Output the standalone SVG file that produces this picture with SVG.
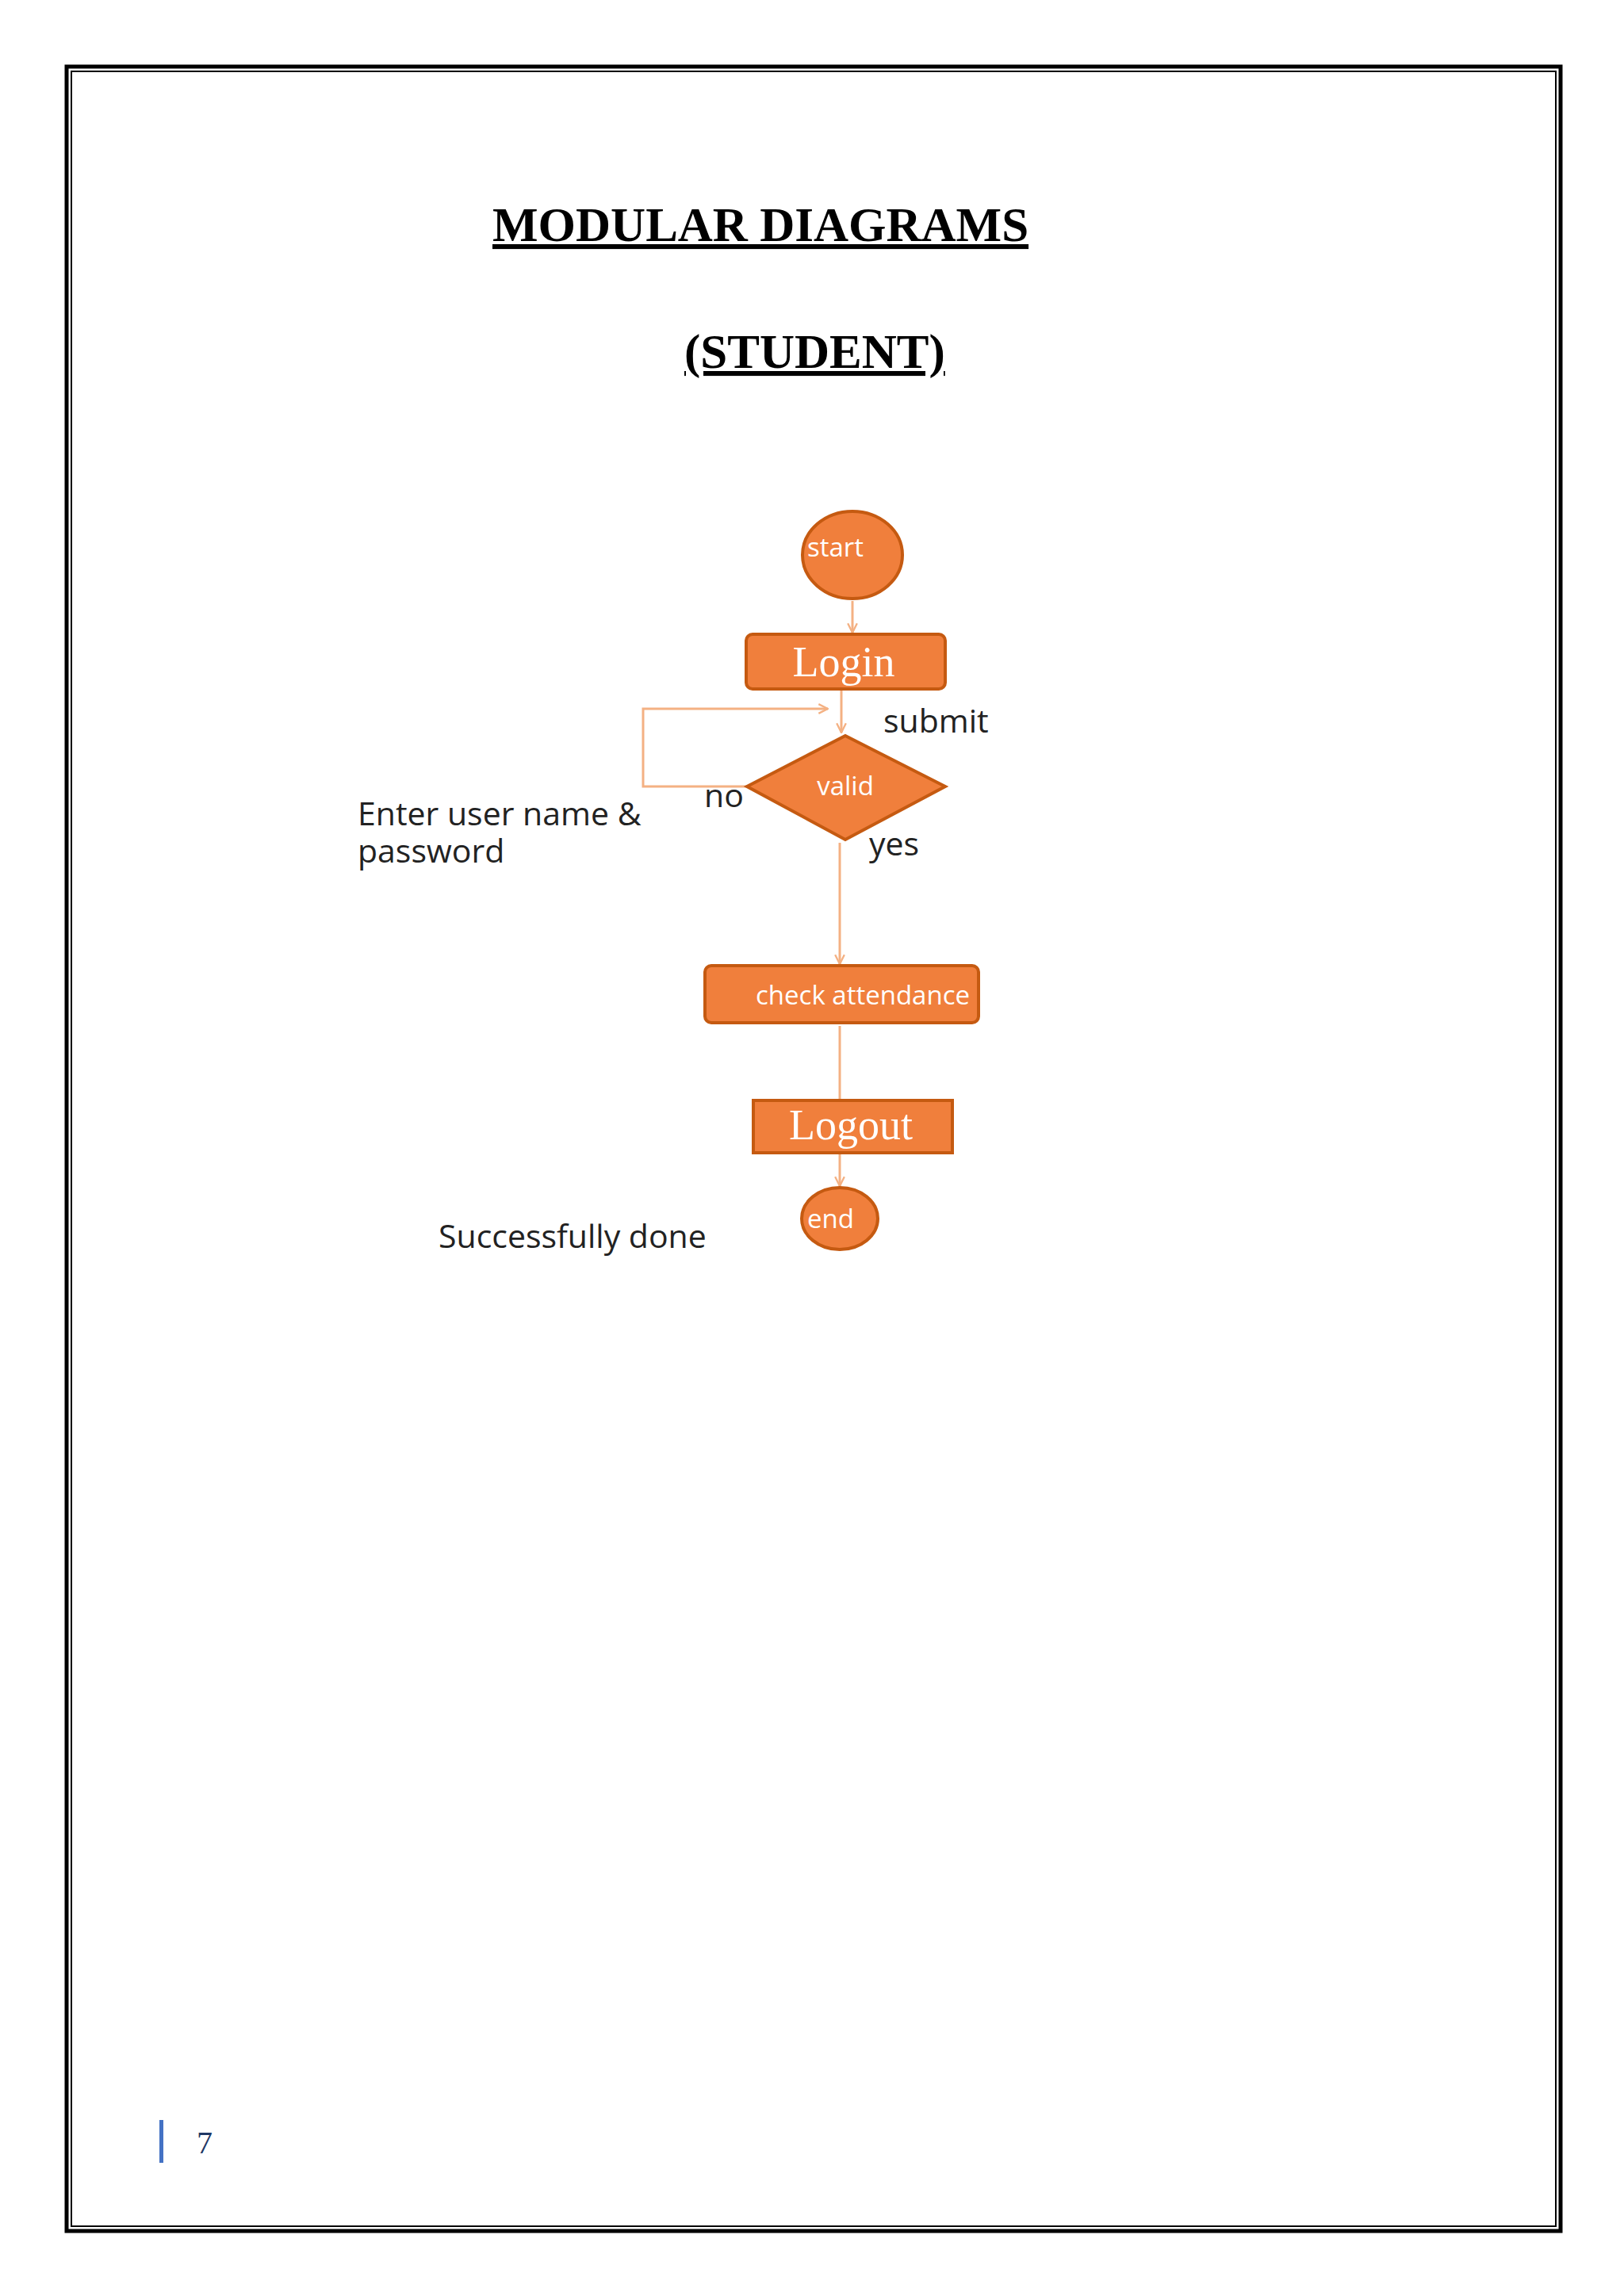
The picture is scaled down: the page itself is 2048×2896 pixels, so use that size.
<svg xmlns="http://www.w3.org/2000/svg" width="2048" height="2896" viewBox="0 0 2048 2896">
<style>
.shape{fill:#F07F3C;stroke:#C55A11;stroke-width:4}
.conn{fill:none;stroke:#F4B183;stroke-width:3}
.lbl{font-family:"Open Sans","DejaVu Sans",sans-serif;fill:#222;font-size:41px}
.in{font-family:"Open Sans","DejaVu Sans",sans-serif;fill:#fff;font-size:33px}
.ser{font-family:"Liberation Serif",serif;fill:#fff;font-size:54px}
.title{font-family:"Liberation Serif",serif;font-weight:bold;font-size:61px;fill:#000;text-decoration:underline}
</style>
<defs>
<marker id="ah" viewBox="0 0 12 12" refX="11" refY="6" markerWidth="14" markerHeight="14" markerUnits="userSpaceOnUse" orient="auto">
<path d="M1,1 L11,6 L1,11" fill="none" stroke="#F4B183" stroke-width="2"/>
</marker>
</defs>
<rect width="2048" height="2896" fill="#fff"/>
<rect x="84" y="84" width="1884" height="2730" fill="none" stroke="#000" stroke-width="5"/>
<rect x="90" y="90" width="1872" height="2718" fill="none" stroke="#000" stroke-width="2"/>
<text class="title" x="621" y="304">MODULAR DIAGRAMS</text>
<text class="title" x="863" y="464">(STUDENT)</text>
<g id="connectors">
<line class="conn" x1="1075" y1="758" x2="1075" y2="798" marker-end="url(#ah)"/>
<line class="conn" x1="1061" y1="871" x2="1061" y2="924" marker-end="url(#ah)"/>
<polyline class="conn" points="942,992 811,992 811,894 1044,894" marker-end="url(#ah)"/>
<line class="conn" x1="1059" y1="1063" x2="1059" y2="1216" marker-end="url(#ah)"/>
<line class="conn" x1="1059" y1="1294" x2="1059" y2="1386"/>
<line class="conn" x1="1059" y1="1456" x2="1059" y2="1496" marker-end="url(#ah)"/>
</g>
<g id="start"><ellipse class="shape" cx="1075" cy="700" rx="63" ry="55"/><text class="in" x="1018" y="702">start</text></g>
<g id="login"><rect class="shape" x="941" y="800" width="251" height="69" rx="8"/><text class="ser" x="1064" y="853" text-anchor="middle">Login</text></g>
<g id="valid"><polygon class="shape" points="1066,928 1192,992 1066,1059 942,992"/><text class="in" x="1066" y="1003" text-anchor="middle">valid</text></g>
<g id="check"><rect class="shape" x="889" y="1218" width="345" height="72" rx="8"/><text class="in" x="953" y="1267" font-size="34">check attendance</text></g>
<g id="logout"><rect class="shape" x="950" y="1388" width="251" height="66"/><text class="ser" x="1073" y="1437" text-anchor="middle">Logout</text></g>
<g id="end"><ellipse class="shape" cx="1059" cy="1537" rx="48" ry="39"/><text class="in" x="1018" y="1549">end</text></g>
<text class="lbl" x="1114" y="924">submit</text>
<text class="lbl" x="888" y="1018">no</text>
<text class="lbl" x="1096" y="1079">yes</text>
<text class="lbl" x="451" y="1041">Enter user name &amp;</text>
<text class="lbl" x="451" y="1088">password</text>
<text class="lbl" x="553" y="1574">Successfully done</text>
<rect x="201" y="2674" width="5" height="54" fill="#4472C4"/>
<text x="248" y="2716" font-family="Liberation Serif,serif" font-size="40" fill="#1F3864">7</text>
</svg>
